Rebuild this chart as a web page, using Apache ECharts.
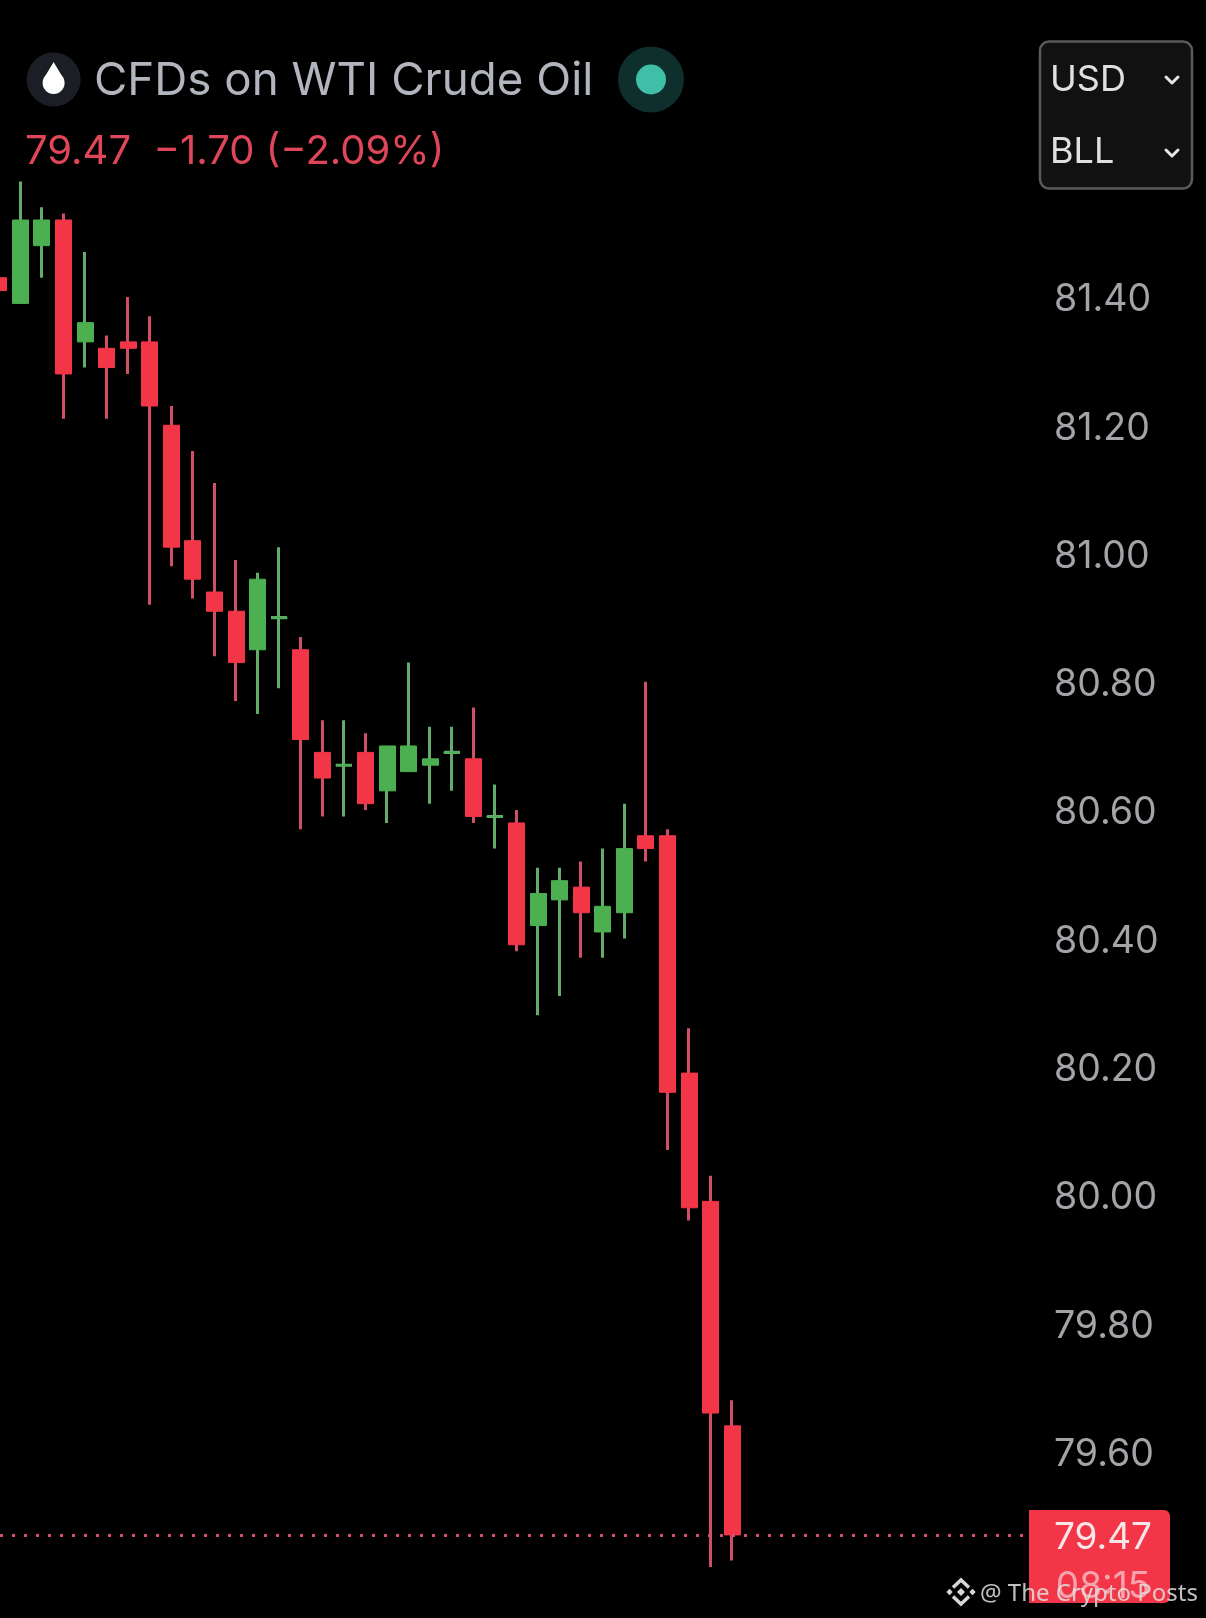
<!DOCTYPE html>
<html>
<head>
<meta charset="utf-8">
<style>html,body{margin:0;padding:0;background:#000}#c{width:1206px;height:1618px}</style>
<script src="https://cdn.jsdelivr.net/npm/echarts@6/dist/echarts.min.js"></script>
</head>
<body>
<div id="c"></div>
<script>
var titleText = 'CFDs on WTI Crude Oil';
var quoteText = '79.47  \u22121.70 (\u22122.09%)';
var currencyText = 'USD';
var unitText = 'BLL';
var countdownText = '08:15';
var watermarkText = '@ The Crypto Posts';

var priceMin = 79.4, priceMax = 81.6, priceStep = 0.2;
var lastPrice = 79.47;

var opens  = [81.43,81.39,81.48,81.52,81.33,81.32,81.33,81.33,81.20,81.02,80.94,80.91,80.85,80.90,80.85,80.69,80.67,80.69,80.63,80.66,80.67,80.69,80.68,80.59,80.58,80.42,80.46,80.48,80.41,80.44,80.56,80.56,80.19,79.99,79.64];
var closes = [81.41,81.52,81.52,81.28,81.36,81.29,81.32,81.23,81.01,80.96,80.91,80.83,80.96,80.90,80.71,80.65,80.67,80.61,80.70,80.70,80.68,80.69,80.59,80.59,80.39,80.47,80.49,80.44,80.45,80.54,80.54,80.16,79.98,79.66,79.47];
var lows   = [81.41,81.39,81.43,81.21,81.29,81.21,81.28,80.92,80.98,80.93,80.84,80.77,80.75,80.79,80.57,80.59,80.59,80.60,80.58,80.66,80.61,80.63,80.58,80.54,80.38,80.28,80.31,80.37,80.37,80.40,80.52,80.07,79.96,79.42,79.43];
var highs  = [81.43,81.58,81.54,81.53,81.47,81.34,81.40,81.37,81.23,81.16,81.11,80.99,80.97,81.01,80.87,80.74,80.74,80.72,80.70,80.83,80.73,80.73,80.76,80.64,80.60,80.51,80.51,80.52,80.54,80.61,80.80,80.57,80.26,80.03,79.68];

var UP = '#4caf50', DOWN = '#f23648', UP_WICK = '#62ad6b', DOWN_WICK = '#cf4f65';
var slots = 48;
var categories = [];
for (var i = 0; i < slots; i++) categories.push(String(i));

var EPS = 0.0001;
var wickData = opens.map(function (o, i) {
  var c = closes[i], mid = (o + c) / 2;
  return c >= o ? [mid - EPS, mid + EPS, lows[i], highs[i]] : [mid + EPS, mid - EPS, lows[i], highs[i]];
});
var bodyData = opens.map(function (o, i) {
  var c = closes[i];
  return [o, c, Math.min(o, c), Math.max(o, c)];
});

var UI = 'Inter, "Liberation Sans", sans-serif';
var chart = echarts.init(document.getElementById('c'), null, {renderer: 'canvas'});

function chevron(cx, cy) {
  return {type: 'polyline', z: 60, shape: {points: [[cx - 6, cy - 3], [cx, cy + 3], [cx + 6, cy - 3]]},
    style: {stroke: '#e6e6e6', lineWidth: 3, fill: null, lineCap: 'round', lineJoin: 'round'}};
}
function diamond(cx, cy, r) {
  return {type: 'polygon', z: 60, shape: {points: [[cx, cy - r], [cx + r, cy], [cx, cy + r], [cx - r, cy]]},
    style: {fill: '#d6d6d6'}};
}
function logoArc(cx, cy, dir) {
  return {type: 'polyline', z: 60, shape: {points: [[cx - 8, cy + dir * 4.5], [cx, cy + dir * 12], [cx + 8, cy + dir * 4.5]]},
    style: {stroke: '#d6d6d6', lineWidth: 3.5, fill: null}};
}

chart.setOption({
  animation: false,
  backgroundColor: '#000',
  grid: {left: -12, top: 168.7, width: 1035.4, height: 1411.1, containLabel: false, outerBoundsMode: 'none'},
  xAxis: {type: 'category', data: categories, boundaryGap: true, show: false},
  yAxis: {
    type: 'value', position: 'right', min: priceMin, max: priceMax, interval: priceStep,
    axisLine: {show: false}, axisTick: {show: false}, splitLine: {show: false},
    axisLabel: {
      show: true, showMinLabel: false, showMaxLabel: false, margin: 30.6,
      verticalAlign: 'top', lineHeight: 6,
      color: '#a3a3a8', fontFamily: UI, fontSize: 37.5,
      formatter: function (v) { return v.toFixed(2); }
    }
  },
  series: [
    {
      type: 'candlestick', name: 'wicks', data: wickData, barWidth: 13, clip: true,
      itemStyle: {color: UP_WICK, color0: DOWN_WICK, borderColor: UP_WICK, borderColor0: DOWN_WICK, borderColorDoji: UP_WICK, borderWidth: 3},
      markLine: {
        silent: true, symbol: 'none', label: {show: false}, animation: false,
        lineStyle: {type: [3, 9], color: '#d0506a', width: 3},
        data: [{yAxis: lastPrice}]
      }
    },
    {
      type: 'candlestick', name: 'bodies', data: bodyData, barWidth: 16.5, clip: true, z: 3,
      itemStyle: {color: UP, color0: DOWN, borderColor: UP, borderColor0: DOWN, borderColorDoji: UP, borderWidth: 1}
    }
  ]
});

var tagY = chart.convertToPixel({yAxisIndex: 0}, lastPrice);

chart.setOption({
  graphic: [
    {type: 'circle', z: 50, shape: {cx: 53.6, cy: 79.5, r: 27}, style: {fill: '#1b1e24'}},
    {type: 'circle', z: 51, shape: {cx: 53.6, cy: 83, r: 11}, style: {fill: '#ffffff'}},
    {type: 'polygon', z: 51, shape: {points: [[53.6, 62], [43.5, 79], [63.7, 79]]}, style: {fill: '#ffffff'}},
    {type: 'text', z: 51, x: 94, y: 81.5, style: {text: titleText, fill: '#b2b5be', font: '400 45.7px ' + UI, textVerticalAlign: 'middle'}},
    {type: 'circle', z: 50, shape: {cx: 651, cy: 79.5, r: 33}, style: {fill: '#0e2f2c'}},
    {type: 'circle', z: 51, shape: {cx: 651, cy: 79.5, r: 15}, style: {fill: '#3fbfa8'}},
    {type: 'text', z: 51, x: 25, y: 151.5, style: {text: quoteText, fill: '#e0465a', font: '400 40px ' + UI, textVerticalAlign: 'middle'}},

    {type: 'rect', z: 55, shape: {x: 1040, y: 41.5, width: 152, height: 147, r: 9}, style: {fill: '#111111', stroke: '#5a5a5a', lineWidth: 2.5}},
    {type: 'text', z: 60, x: 1050, y: 80.5, style: {text: currencyText, fill: '#e0e0e0', font: '400 36px ' + UI, textVerticalAlign: 'middle'}},
    {type: 'text', z: 60, x: 1050, y: 152.5, style: {text: unitText, fill: '#e0e0e0', font: '400 36px ' + UI, textVerticalAlign: 'middle'}},
    chevron(1172, 80), chevron(1172, 153),

    {type: 'rect', z: 55, shape: {x: 1029, y: tagY - 25, width: 141, height: 93, r: [0, 6, 6, 0]}, style: {fill: '#f23648'}},
    {type: 'text', z: 56, x: 1103, y: tagY + 3, style: {text: String(lastPrice), fill: '#f5e6e8', font: '400 37px ' + UI, textAlign: 'center', textVerticalAlign: 'middle'}},
    {type: 'text', z: 56, x: 1103, y: tagY + 52, style: {text: countdownText, fill: '#f7a3ad', font: '400 37px ' + UI, textAlign: 'center', textVerticalAlign: 'middle'}},

    logoArc(961, 1592, -1), logoArc(961, 1592, 1), diamond(961, 1592, 4), diamond(949.5, 1592, 3.2), diamond(972.5, 1592, 3.2),
    {type: 'text', z: 60, x: 980, y: 1594, style: {text: watermarkText, fill: 'rgba(225,225,225,0.85)', font: '400 24px "Noto Sans", sans-serif', textVerticalAlign: 'middle'}}
  ]
});
</script>
</body>
</html>
